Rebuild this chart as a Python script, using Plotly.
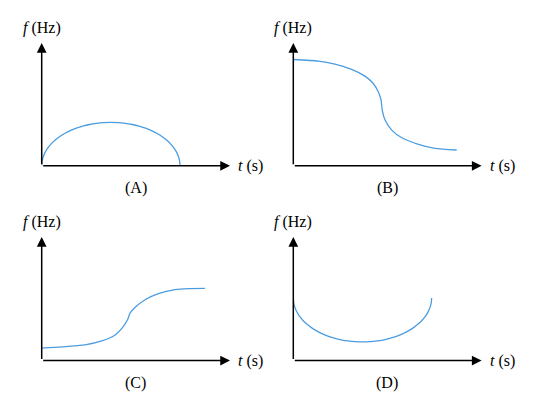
import plotly.graph_objects as go

# ---- data (t in s, f in Hz, arbitrary units) ----
panel_labels = ["(A)", "(B)", "(C)", "(D)"]
y_title = "<i>f</i> (Hz)"
x_title = "<i>t</i> (s)"

t_A = [0, 0.020, 0.080, 0.178, 0.315, 0.488, 0.695, 0.935, 1.204, 1.500, 1.820,
       2.160, 2.515, 2.883, 3.260, 3.640, 4.020, 4.397, 4.765, 5.120, 5.460,
       5.780, 6.076, 6.345, 6.585, 6.792, 6.965, 7.102, 7.200, 7.260, 7.280]
f_A = [0, 0.371, 0.738, 1.097, 1.444, 1.775, 2.087, 2.375, 2.638, 2.872, 3.074,
       3.243, 3.376, 3.472, 3.530, 3.550, 3.530, 3.472, 3.376, 3.243, 3.074,
       2.872, 2.638, 2.375, 2.087, 1.775, 1.444, 1.097, 0.738, 0.371, 0]

t_B = [0, 1.32, 2.19, 3.07, 3.77, 4.21, 4.47, 4.62, 4.68, 4.83, 5.18, 5.71, 6.58, 7.46, 8.60]
f_B = [8.69, 8.56, 8.31, 7.88, 7.33, 6.73, 6.05, 5.37, 4.56, 3.74, 2.92, 2.29, 1.76, 1.43, 1.29]

t_C = [0, 1.05, 2.28, 3.16, 3.86, 4.29, 4.53, 4.65, 4.91, 5.44, 6.14, 7.02, 7.72, 8.59]
f_C = [1.00, 1.10, 1.27, 1.59, 2.08, 2.76, 3.36, 3.85, 4.31, 4.94, 5.43, 5.76, 5.84, 5.86]

t_D = [0, 0.020, 0.080, 0.178, 0.315, 0.488, 0.695, 0.935, 1.204, 1.500, 1.820,
       2.160, 2.515, 2.883, 3.260, 3.640, 4.020, 4.397, 4.765, 5.120, 5.460,
       5.780, 6.076, 6.345, 6.585, 6.792, 6.965, 7.102, 7.200, 7.260, 7.280]
f_D = [5.08, 4.707, 4.338, 3.977, 3.628, 3.295, 2.982, 2.691, 2.427, 2.192, 1.988,
       1.819, 1.685, 1.588, 1.530, 1.510, 1.530, 1.588, 1.685, 1.819, 1.988,
       2.192, 2.427, 2.691, 2.982, 3.295, 3.628, 3.977, 4.338, 4.707, 5.08]

series = [(t_A, f_A, 1.0), (t_B, f_B, 0.6), (t_C, f_C, 0.6), (t_D, f_D, 1.0)]

OFF = 8  # page body margin
W, H = 534 - OFF, 411 - OFF


def px_x(p):
    return (p - OFF) / W


def px_y(p):
    return 1 - (p - OFF) / H


x_doms = [(px_x(41.7), px_x(230)), (px_x(293.3), px_x(481.6))]
y_doms = [(px_y(165.8), px_y(43)), (px_y(360.5), px_y(237))]
T_RANGE = [0, 9.91]
F_RANGE = [0, 10.04]

FONT = "Liberation Serif"
LINE_COLOR = "#4C9DE0"

fig = go.Figure()
annotations = []
layout_axes = {}

for i, (tt, ff, sm) in enumerate(series):
    row, col = divmod(i, 2)
    n = i + 1
    xa = "x" if n == 1 else f"x{n}"
    ya = "y" if n == 1 else f"y{n}"
    fig.add_trace(go.Scatter(x=tt, y=ff, mode="lines", xaxis=xa, yaxis=ya,
                             line=dict(color=LINE_COLOR, width=1.3, shape="spline", smoothing=sm),
                             showlegend=False, hoverinfo="skip"))
    key_x = "xaxis" if n == 1 else f"xaxis{n}"
    key_y = "yaxis" if n == 1 else f"yaxis{n}"
    layout_axes[key_x] = dict(domain=list(x_doms[col]), range=T_RANGE, visible=False,
                              anchor=ya, fixedrange=True)
    layout_axes[key_y] = dict(domain=list(y_doms[row]), range=F_RANGE, visible=False,
                              anchor=xa, fixedrange=True)
    xd, yd = f"{xa} domain", f"{ya} domain"
    # axes with arrows
    for (x1, y1) in [(1, 0), (0, 1)]:
        annotations.append(dict(xref=xd, yref=yd, axref=xd, ayref=yd,
                                x=x1, y=y1, ax=0, ay=0, text="", showarrow=True,
                                arrowhead=2, arrowsize=1.3, arrowwidth=1.5,
                                arrowcolor="black"))
    annotations.append(dict(xref=xd, yref=yd, x=0, y=1, yshift=15, text=y_title,
                            showarrow=False, xanchor="center", yanchor="middle",
                            font=dict(family=FONT, size=16, color="black")))
    annotations.append(dict(xref=xd, yref=yd, x=1, y=0, xshift=6, text=x_title,
                            showarrow=False, xanchor="left", yanchor="middle",
                            font=dict(family=FONT, size=16, color="black")))
    annotations.append(dict(xref=xd, yref=yd, x=0.5, y=0, yshift=-22, text=panel_labels[i],
                            showarrow=False, xanchor="center", yanchor="middle",
                            font=dict(family=FONT, size=16, color="black")))

fig.update_layout(width=W, height=H, margin=dict(l=0, r=0, t=0, b=0),
                  paper_bgcolor="white", plot_bgcolor="white",
                  annotations=annotations, **layout_axes)

fig.write_html("out.html")
